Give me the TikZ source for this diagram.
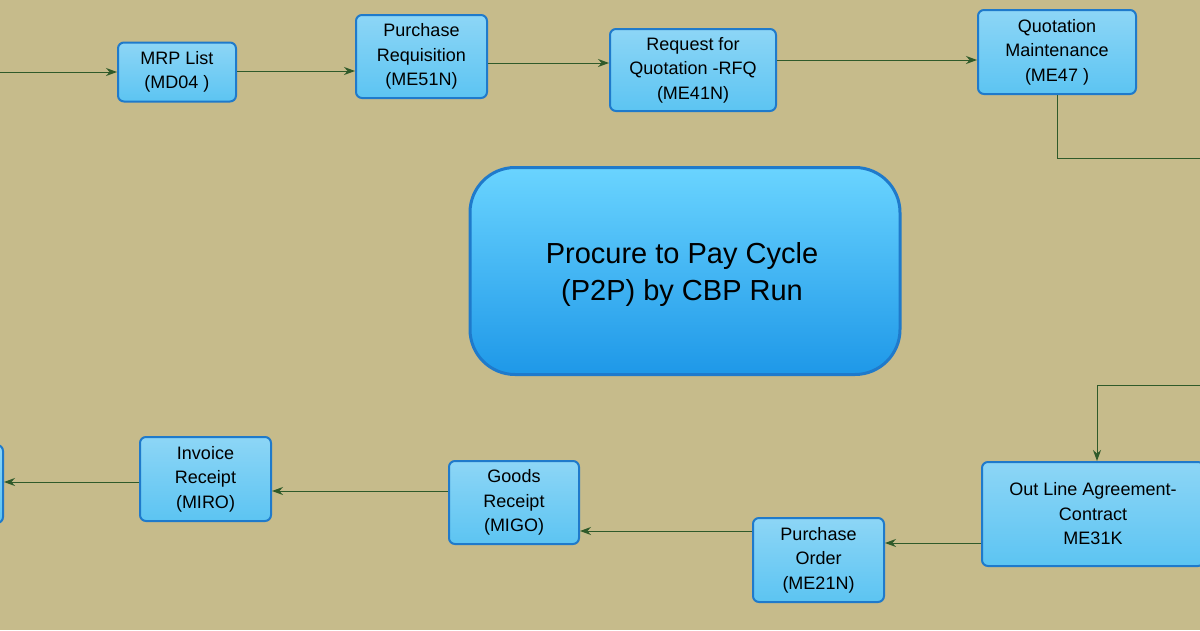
\documentclass[tikz,border=0pt]{standalone}
\usepackage{fontspec}
\setmainfont{Liberation Sans}
\usetikzlibrary{arrows.meta}
\definecolor{bg}{HTML}{C6BB8B}
\definecolor{bfill}{HTML}{5CC4F2}
\definecolor{bdraw}{HTML}{1F7ACB}
\definecolor{arr}{HTML}{2F5A2A}
\definecolor{ctop}{HTML}{6AD4FF}
\definecolor{cbot}{HTML}{1E98E8}
\begin{document}
\begin{tikzpicture}[x=1pt,y=-1pt,
  box/.style={draw=bdraw,line width=2pt,rounded corners=6pt,top color=bfill!70!white,bottom color=bfill,
    align=center,font=\fontsize{18}{24.5}\selectfont,inner sep=0pt},
  conn/.style={draw=arr,line width=1pt,-{Stealth[length=11pt,width=8pt]}}]
\fill[bg] (0,0) rectangle (1200,630);
\useasboundingbox (0,0) rectangle (1200,630);
\clip (0,0) rectangle (1200,630);
\node[box,minimum width=118pt,minimum height=59pt] (mrp) at (177,72) {MRP List\\(MD04 )};
\node[box,minimum width=131pt,minimum height=83pt] (pr) at (421.5,56.5) {Purchase\\Requisition\\(ME51N)};
\node[box,minimum width=166pt,minimum height=82pt] (rfq) at (693,70) {Request for\\Quotation -RFQ\\(ME41N)};
\node[box,minimum width=158pt,minimum height=84pt] (qm) at (1057,52) {Quotation\\Maintenance\\(ME47 )};
\node[draw=bdraw,line width=3pt,rounded corners=45pt,top color=ctop,bottom color=cbot,
  minimum width=430pt,minimum height=207pt,align=center,font=\fontsize{29}{37}\selectfont] (c) at (685,271) {};
\node[align=center,font=\fontsize{29}{37}\selectfont] (ct) at (682,274) {Procure to Pay Cycle\\(P2P) by CBP Run};
\node[box,minimum width=222pt,minimum height=104pt] (ola) at (1093,514) {Out Line Agreement-\\Contract\\ME31K};
\node[box,minimum width=131pt,minimum height=84pt] (po) at (818.5,560) {Purchase\\Order\\(ME21N)};
\node[box,minimum width=130pt,minimum height=83pt] (gr) at (514,502.5) {Goods\\Receipt\\(MIGO)};
\node[box,minimum width=131pt,minimum height=84pt] (ir) at (205.5,479) {Invoice\\Receipt\\(MIRO)};
\node[box,minimum width=86pt,minimum height=78pt] (lb) at (-40,484) {};
\coordinate (s0) at (0,72);
\coordinate (q1) at (1057,158);
\coordinate (q2) at (1205,158);
\coordinate (o1) at (1205,385);
\coordinate (o2) at (1097,385);
\draw[conn] (s0) -- (mrp.west);
\draw[conn] (mrp.east |- 0,71) -- (pr.west |- 0,71);
\draw[conn] (pr.east |- 0,63) -- (rfq.west |- 0,63);
\draw[conn] (rfq.east |- 0,60) -- (qm.west |- 0,60);
\draw[draw=arr,line width=1pt] (qm.south) -- (q1) -- (q2);
\draw[conn] (o1) -- (o2) -- (o2 |- ola.north);
\draw[conn] (ola.west |- 0,543) -- (po.east |- 0,543);
\draw[conn] (po.west |- 0,531) -- (gr.east |- 0,531);
\draw[conn] (gr.west |- 0,491) -- (ir.east |- 0,491);
\draw[conn] (ir.west |- 0,482) -- (lb.east |- 0,482);
\end{tikzpicture}
\end{document}
